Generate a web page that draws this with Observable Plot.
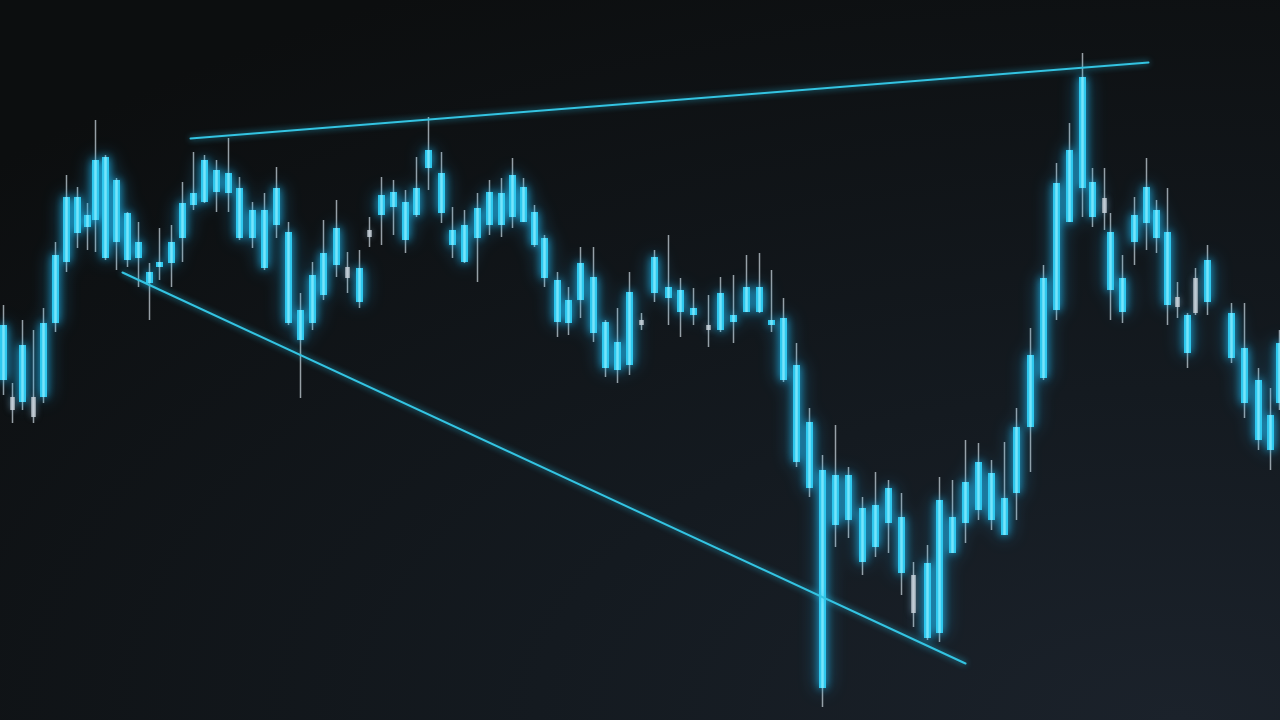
<!DOCTYPE html>
<html>
<head>
<meta charset="utf-8">
<script src="https://cdn.jsdelivr.net/npm/d3@7"></script>
<script src="https://cdn.jsdelivr.net/npm/@observablehq/plot@0.6"></script>
<style>
  html, body { margin: 0; padding: 0; width: 1280px; height: 720px; overflow: hidden; }
  body { background: radial-gradient(ellipse 125% 115% at 92% 100%, #1b222b 0%, #141a20 40%, #0c0e0f 100%); }
  #chart svg { display: block; }
</style>
</head>
<body>
<div id="chart"></div>
<script>
// time coordinate of each session
const time = [3,12,22,33,43,55,66,77,87,95,105,116,127,138,149,159,171,182,193,204,216,228,239,252,264,276,288,300,312,323,336,347,359,369,381,393,405,416,428,441,452,464,477,489,501,512,523,534,544,557,568,580,593,605,617,629,641,654,668,680,693,708,720,733,746,759,771,783,796,809,822,835,848,862,875,888,901,913,927,939,952,965,978,991,1004,1016,1030,1043,1056,1069,1082,1092,1104,1110,1122,1134,1146,1156,1167,1177,1187,1195,1207,1231,1244,1258,1270,1279];
const high = [415,337,400,390,412,478,545,533,517,600,565,542,508,498,457,492,495,538,568,565,560,582,543,518,527,553,498,427,458,500,520,468,470,503,543,540,530,563,603,568,513,510,527,540,542,562,542,515,485,448,433,473,473,400,412,448,407,470,485,442,432,425,443,445,465,467,450,422,377,312,265,295,253,223,248,240,227,158,175,243,240,280,277,260,278,312,392,455,557,597,667,552,552,507,465,523,562,520,532,438,407,452,475,417,417,352,332,390];
const low  = [325,297,310,297,317,388,448,472,470,468,460,450,453,433,400,440,433,458,510,517,508,508,480,472,450,482,395,322,390,420,443,427,412,473,475,485,467,503,530,497,462,457,438,485,483,492,498,473,433,383,385,402,378,343,337,345,390,418,395,383,395,373,388,377,408,407,388,338,253,223,13,173,182,145,163,167,125,93,80,78,167,177,200,190,185,200,248,340,400,498,503,493,490,400,397,455,470,467,395,402,352,405,405,357,302,270,250,310];
const open = [340,323,318,323,323,397,458,487,493,500,462,478,460,462,437,453,457,482,515,518,528,527,482,482,452,495,397,380,397,425,455,453,418,490,505,513,480,505,552,507,475,458,482,495,495,503,498,475,442,398,397,420,387,352,350,355,400,427,422,408,405,395,390,398,408,408,395,340,258,232,32,195,200,158,173,197,147,145,82,87,167,197,210,200,185,227,293,342,410,498,532,503,522,430,408,478,497,482,415,423,367,442,418,362,317,280,270,317];
const close = [395,310,375,303,397,465,523,523,505,560,563,540,507,478,448,458,478,517,527,560,550,547,532,510,510,532,488,410,445,467,492,442,452,483,525,528,518,532,570,547,490,495,512,528,527,545,533,508,482,440,420,457,443,398,378,428,395,463,433,430,412,390,427,405,433,433,400,402,355,298,250,245,245,212,215,232,203,107,157,220,203,238,258,247,222,293,365,442,537,570,643,538,507,488,442,505,533,510,488,413,405,407,460,407,372,340,305,377];

// drawn trend lines (time, price)
const upperTrend = [{t: 190, p: 582}, {t: 1148, p: 658}];
const lowerTrend = [{t: 122, p: 448}, {t: 965, p: 57}];

const candles = time.map((t, i) => ({t, open: open[i], close: close[i], high: high[i], low: low[i]}));
const upCandles = candles.filter(d => d.close >= d.open);
const downCandles = candles.filter(d => d.close < d.open);

const plot = Plot.plot({
  width: 1280,
  height: 720,
  margin: 0,
  style: {background: "transparent", overflow: "visible"},
  x: {domain: [0, 1280], axis: null},
  y: {domain: [0, 720], axis: null},
  marks: [
    Plot.ruleX(candles, {x: "t", y1: "low", y2: "high", stroke: "#b9c3ca", strokeWidth: 1.5, strokeOpacity: 0.8}),
    Plot.ruleX(upCandles, {x: "t", y1: "open", y2: "close", stroke: "#2fc8ee", strokeWidth: 7}),
    Plot.ruleX(upCandles, {x: "t", y1: "open", y2: "close", stroke: "#8eeeff", strokeWidth: 2.5, strokeOpacity: 0.75}),
    Plot.ruleX(downCandles, {x: "t", y1: "open", y2: "close", stroke: "#c9d2da", strokeWidth: 4.5, strokeOpacity: 0.85}),
    Plot.line(upperTrend, {x: "t", y: "p", stroke: "#34c4e2", strokeWidth: 2}),
    Plot.line(lowerTrend, {x: "t", y: "p", stroke: "#34c4e2", strokeWidth: 2})
  ]
});
document.getElementById("chart").appendChild(plot);

const groups = plot.querySelectorAll(":scope > g");
if (groups.length >= 6) {
  groups[1].style.filter = "drop-shadow(0 0 4px rgba(30,190,245,0.85)) drop-shadow(0 0 9px rgba(30,170,235,0.45))";
  groups[3].style.filter = "drop-shadow(0 0 3px rgba(150,200,230,0.5))";
  groups[4].style.filter = "drop-shadow(0 0 3px rgba(40,200,240,0.8))";
  groups[5].style.filter = "drop-shadow(0 0 3px rgba(40,200,240,0.8))";
}
</script>
</body>
</html>
